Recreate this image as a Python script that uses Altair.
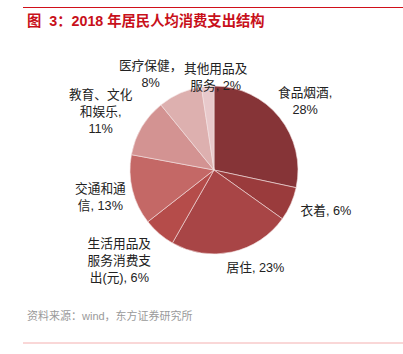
import altair as alt
import pandas as pd

categories = ["食品烟酒", "衣着", "居住", "生活用品及服务消费支出(元)", "交通和通信",
              "教育、文化和娱乐", "医疗保健", "其他用品及服务"]
shares = [28.4, 6.5, 23.4, 6.2, 13.5, 11.2, 8.5, 2.4]
label_lines = [
    ["食品烟酒,", "28%"],
    ["衣着, 6%"],
    ["居住, 23%"],
    ["生活用品及", "服务消费支", "出(元), 6%"],
    ["交通和通", "信, 13%"],
    ["教育、文化", "和娱乐,", "11%"],
    ["医疗保健，", "8%"],
    ["其他用品及", "服务, 2%"],
]
colors = ["#863437", "#9A3B3C", "#A84546", "#B54C4A", "#C46866", "#D39392", "#DDB0AF", "#E8C9CB"]
title_text = "图\u00a0\u00a03：2018 年居民人均消费支出结构"
source_text = "资料来源：wind，东方证券研究所"

df = pd.DataFrame({
    "cat": categories,
    "share": shares,
    "order": list(range(len(categories))),
    "label": label_lines,
})
one = pd.DataFrame({"k": [0]})
total = sum(shares)

W, H = 403, 354
CX, CY, R = 214, 170, 84
FONT = "Liberation Sans, Noto Sans CJK SC, sans-serif"

theta_scale = alt.Scale(domain=[0, total])
color_scale = alt.Scale(domain=categories, range=colors)

pie = alt.Chart(df).mark_arc(stroke="#f3e3e3", strokeWidth=0.6).encode(
    theta=alt.Theta("share:Q", stack=True, scale=theta_scale),
    color=alt.Color("cat:N", scale=color_scale, legend=None),
    order=alt.Order("order:Q"),
    x=alt.value(CX), y=alt.value(CY),
    radius=alt.value(R),
)

base = alt.Chart(df).transform_window(
    cum="sum(share)", frame=[None, 0], sort=[alt.SortField("order")]
).transform_calculate(mid="datum.cum - datum.share / 2")

# per-label placement: (radius, dx, dy)
placement = {
    "食品烟酒": (112, 4, -7),
    "衣着": (118, 4, -7),
    "居住": (100, 20, 0),
    "生活用品及服务消费支出(元)": (128, -11, -23),
    "交通和通信": (118, 1, -9),
    "教育、文化和娱乐": (126, -5, -11),
    "医疗保健": (112, -18, -2),
    "其他用品及服务": (97, 9, -4),
}

layers = [pie]
for name, (rr, dx, dy) in placement.items():
    t = base.transform_filter(alt.datum.cat == name).mark_text(
        font=FONT, fontSize=12.7, color="#222222", align="center", baseline="middle",
        lineHeight=17, dx=dx, dy=dy,
    ).encode(
        theta=alt.Theta("mid:Q", scale=theta_scale),
        radius=alt.value(rr),
        x=alt.value(CX), y=alt.value(CY),
        text="label",
    )
    layers.append(t)

top_rule = alt.Chart(one).mark_rule(color="#D0101A", strokeWidth=1).encode(
    x=alt.value(23), x2=alt.value(W), y=alt.value(7.5))
bottom_rule = alt.Chart(one).mark_rule(color="#F4AFAF", strokeWidth=1).encode(
    x=alt.value(23), x2=alt.value(W), y=alt.value(343))
title = alt.Chart(one).mark_text(
    font=FONT, fontSize=14.3, fontWeight="bold", color="#C8101A", align="left", baseline="middle"
).encode(x=alt.value(27), y=alt.value(22), text=alt.value(title_text))
footer = alt.Chart(one).mark_text(
    font=FONT, fontSize=11, color="#9A9A9A", align="left", baseline="middle"
).encode(x=alt.value(27), y=alt.value(317), text=alt.value(source_text))

chart = alt.layer(*layers, top_rule, bottom_rule, title, footer).properties(
    width=W, height=H, autosize=alt.AutoSizeParams(type="none"), padding=0,
    background="white",
).configure_view(stroke=None)

chart.save("out.html", embed_options={"renderer": "svg", "actions": False})
